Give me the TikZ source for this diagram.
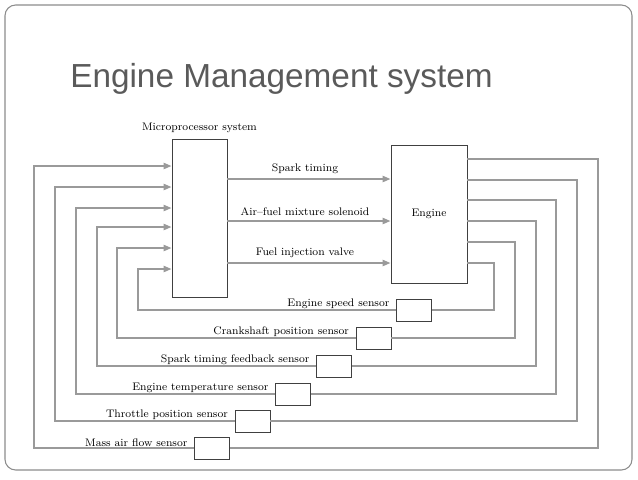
\documentclass[tikz,border=0pt]{standalone}
\usepackage{fontspec}
\newfontfamily\titlefont{Liberation Sans}
\usetikzlibrary{arrows.meta}
\definecolor{linegray}{HTML}{9A9A9A}
\definecolor{titlegray}{HTML}{5A5A5A}
\begin{document}
\begin{tikzpicture}[x=0.75pt,y=-0.75pt,
  wire/.style={draw=linegray,line width=1.9pt},
  arr/.style={wire,-{Triangle[length=6pt,width=4.5pt]}},
  blk/.style={draw=black!75,line width=0.5pt,fill=white,inner sep=0pt},
  lbl/.style={font=\fontsize{8.2}{9}\selectfont,inner sep=1pt}]
\useasboundingbox (0,0) rectangle (638,479);
\draw[draw=black!45,line width=0.8pt,rounded corners=8pt] (5,5) rectangle (632,470);
\node[anchor=base west,text=titlegray,font=\titlefont\fontsize{25}{28}\selectfont,inner sep=0pt] (title) at (70,87) {Engine Management system};

% blocks
\node[blk,minimum width=41.25pt,minimum height=118.5pt] (mp) at (199.5,218) {};
\node[lbl,anchor=south] (mplbl) at (mp.north) [yshift=3pt] {Microprocessor system};
\node[blk,minimum width=57pt,minimum height=103.5pt] (eng) at (429,214) {};
\node[lbl] (englbl) at (eng.center) {Engine};

% outputs
\foreach \y/\t/\n in {179/Spark timing/o1,221/Air--fuel mixture solenoid/o2,263/Fuel injection valve/o3}{
  \coordinate (\n) at (0,\y);
  \draw[arr] (mp.east |- \n) -- (eng.west |- \n);
  \node[lbl,anchor=south] at (305,\y-4) {\t};
}

% sensor loops: engine output y / right x / bottom y / left x / input y / box x / label / name
\foreach \ey/\rx/\by/\lx/\iy/\bx/\t/\n in {
  263/494/310/138/269/414/Engine speed sensor/s1,
  242/515/338/117/248/373.5/Crankshaft position sensor/s2,
  221/536/366/97/227/334/Spark timing feedback sensor/s3,
  200/556/394/76/208/293/Engine temperature sensor/s4,
  180/577/421/55/187/252.5/Throttle position sensor/s5,
  159/598/448/34/166/212/Mass air flow sensor/s6}{
  \node[blk,minimum width=26pt,minimum height=16.5pt] (\n) at (\bx,\by) {};
  \coordinate (\n r) at (\rx,\by);
  \coordinate (\n l) at (\lx,\by);
  \coordinate (\n i) at (0,\iy);
  \coordinate (\n e) at (0,\ey);
  \draw[wire] (eng.east |- \n e) -| (\n r) -- (\n.east);
  \draw[arr] (\n.west) -- (\n l) |- (mp.west |- \n i);
  \node[lbl,anchor=south east] at ([xshift=-4pt,yshift=0pt]\n.west) {\t};
}
\end{tikzpicture}
\end{document}
